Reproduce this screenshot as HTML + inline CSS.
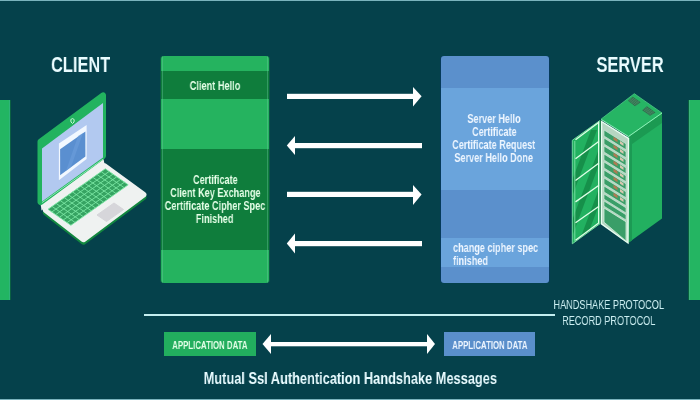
<!DOCTYPE html>
<html><head><meta charset="utf-8">
<style>
html,body{margin:0;padding:0;}
body{width:700px;height:400px;overflow:hidden;background:#05414b;position:relative;font-family:"Liberation Sans",sans-serif;}
.a{position:absolute;}
.ln{position:absolute;white-space:nowrap;font-weight:bold;text-align:center;}
.ln span{display:inline-block;will-change:transform;}
.ln{will-change:transform;}
</style></head><body>
<div class="a" style="left:0;top:0;width:700px;height:1px;background:#7ab3bd"></div>
<div class="a" style="left:0;top:399px;width:700px;height:1px;background:#7ab3bd"></div>
<div class="a" style="left:0;top:100px;width:9px;height:200px;background:#22b562"></div>
<div class="a" style="left:9px;top:100px;width:1px;height:200px;background:#2fb47a"></div>
<div class="a" style="left:10px;top:100px;width:1px;height:200px;background:#0a6042"></div>
<div class="a" style="left:688px;top:100px;width:1px;height:200px;background:#08603e"></div>
<div class="a" style="left:689px;top:100px;width:1px;height:200px;background:#3cb47c"></div>
<div class="a" style="left:690px;top:100px;width:10px;height:200px;background:#24b562"></div>

<svg class="a" style="left:0;top:0" width="700" height="400">
<polygon points="45.92,212.54 104.04,168.53 143.43,197.13 83.35,241.73" fill="#12873f" stroke="#12873f" stroke-width="6" stroke-linejoin="round"/>
<polygon points="45.92,210.04 104.04,166.03 143.43,194.63 83.35,239.23" fill="#eff2f1" stroke="#eff2f1" stroke-width="6" stroke-linejoin="round"/>
<polygon points="40.50,203.00 103.00,157.00 104.50,163.50 41.50,210.50" fill="#eff2f1"/>
<polygon points="40.50,141.60 103.00,95.40 103.00,156.00 40.50,202.00" fill="#22b35f" stroke="#22b35f" stroke-width="6" stroke-linejoin="round"/>
<polygon points="42.00,148.40 103.00,103.10 103.00,157.50 42.00,201.50" fill="#b2c9f0"/>
<line x1="42" y1="202.6" x2="103" y2="159.2" stroke="#8ae8b0" stroke-width="1"/>
<polygon points="58.90,143.60 86.60,124.90 86.60,159.00 58.90,180.20" fill="#f2f8ff"/>
<polygon points="60.10,149.30 85.40,131.40 85.40,156.60 60.10,175.30" fill="#5a8fd0"/>
<polygon points="66.00,171.00 78.00,136.00 83.00,133.00 71.00,167.00" fill="#6d9fdc" opacity="0.6"/>
<path d="M70.8,119.5 L72.6,118.6 L74.2,119.6 L74,122 L72.5,123.5 L71,122 Z" fill="none" stroke="#d8ffe0" stroke-width="0.9"/>
<polygon points="48.00,209.30 105.30,168.80 128.20,184.80 70.90,225.30" fill="#36a362"/>
<path d="M48.00,209.30L70.90,225.30M52.09,206.41L74.99,222.41M56.19,203.51L79.09,219.51M60.28,200.62L83.18,216.62M64.37,197.73L87.27,213.73M68.46,194.84L91.36,210.84M72.56,191.94L95.46,207.94M76.65,189.05L99.55,205.05M80.74,186.16L103.64,202.16M84.84,183.26L107.74,199.26M88.93,180.37L111.83,196.37M93.02,177.48L115.92,193.48M97.11,174.59L120.01,190.59M101.21,171.69L124.11,187.69M105.30,168.80L128.20,184.80M48.00,209.30L105.30,168.80M51.82,211.97L109.12,171.47M55.63,214.63L112.93,174.13M59.45,217.30L116.75,176.80M63.27,219.97L120.57,179.47M67.08,222.63L124.38,182.13M70.90,225.30L128.20,184.80" stroke="#7ae6a4" stroke-width="0.9" fill="none"/>
<polygon points="114.00,203.00 123.50,209.50 106.50,221.50 97.00,215.00" fill="#d6d6da" stroke="#d6d6da" stroke-width="1" stroke-linejoin="round"/>
<defs><clipPath id="dc"><polygon points="572.30,140.30 600.00,120.50 600.00,223.70 572.30,243.80"/></clipPath></defs>
<polygon points="572.30,140.30 600.00,120.50 600.00,223.70 572.30,243.80" fill="#22b160"/>
<g clip-path="url(#dc)" fill="#16904a"><polygon points="546.00,250.00 552.00,250.00 597.00,130.00 591.00,130.00"/><polygon points="561.00,250.00 567.00,250.00 612.00,130.00 606.00,130.00"/><polygon points="576.00,250.00 582.00,250.00 627.00,130.00 621.00,130.00"/><polygon points="591.00,250.00 597.00,250.00 642.00,130.00 636.00,130.00"/><polygon points="606.00,250.00 612.00,250.00 657.00,130.00 651.00,130.00"/></g>
<polygon points="572.30,140.30 600.00,120.50 600.00,223.70 572.30,243.80" fill="none" stroke="#6fd89c" stroke-width="1"/>
<line x1="574.8" y1="141" x2="574.8" y2="241.5" stroke="#8ae8b0" stroke-width="0.8"/>
<line x1="598.6" y1="121.5" x2="598.6" y2="223" stroke="#e0ffe8" stroke-width="1.2"/>
<line x1="575.5" y1="139.8" x2="599" y2="122.3" stroke="#e0ffe8" stroke-width="1.3"/>
<line x1="575.5" y1="158.7" x2="599" y2="141.2" stroke="#e0ffe8" stroke-width="1.3"/>
<line x1="575.5" y1="180.6" x2="599" y2="163.1" stroke="#e0ffe8" stroke-width="1.3"/>
<line x1="575.5" y1="201.9" x2="599" y2="185.2" stroke="#e0ffe8" stroke-width="1.3"/>
<line x1="575.5" y1="222.8" x2="599" y2="206.2" stroke="#e0ffe8" stroke-width="1.3"/>
<line x1="575.5" y1="240.3" x2="599" y2="222.8" stroke="#e0ffe8" stroke-width="1.3"/>
<line x1="600.5" y1="120" x2="600.5" y2="224" stroke="#0e6e3a" stroke-width="1.2"/>
<polygon points="628.50,136.50 662.00,113.00 662.00,218.60 628.00,243.00" fill="#22b060"/>
<polygon points="628.50,136.50 662.00,113.00 662.00,123.00 628.50,146.50" fill="#1b9a52"/>
<polygon points="628.50,137.00 632.00,134.50 632.00,240.50 628.20,243.00" fill="#1c9a54"/>
<polygon points="634.30,93.70 662.00,113.00 628.50,136.50 601.20,119.00" fill="#26b564" stroke="#4cc985" stroke-width="0.8" stroke-linejoin="round"/>
<polyline points="601.20,119.50 628.50,136.50 662.00,113.00" fill="none" stroke="#8af0b4" stroke-width="1"/>
<polygon points="632.70,96.80 640.60,102.30 635.00,106.30 628.00,100.70" fill="#2a6e4a"/>
<path d="M634.28,97.90L629.40,101.82M631.76,97.58L639.48,103.10M635.86,99.00L630.80,102.94M630.82,98.36L638.36,103.90M637.44,100.10L632.20,104.06M629.88,99.14L637.24,104.70M639.02,101.20L633.60,105.18M628.94,99.92L636.12,105.50" stroke="#4d8a68" stroke-width="0.6"/>
<polygon points="646.90,106.30 655.50,112.60 650.00,115.70 642.20,110.20" fill="#2a6e4a"/>
<path d="M648.62,107.56L643.76,111.30M645.96,107.08L654.40,113.22M650.34,108.82L645.32,112.40M645.02,107.86L653.30,113.84M652.06,110.08L646.88,113.50M644.08,108.64L652.20,114.46M653.78,111.34L648.44,114.60M643.14,109.42L651.10,115.08" stroke="#4d8a68" stroke-width="0.6"/>
<polygon points="601.60,121.50 628.50,138.30 628.00,243.00 601.40,223.80" fill="#b6d6c2"/>
<polygon points="601.60,121.50 628.50,138.30 628.00,243.00 601.40,223.80" fill="none" stroke="#eafff2" stroke-width="1.4"/>
<polygon points="604.00,130.00 626.00,143.74 626.00,149.74 604.00,136.00" fill="#3a9e68" stroke="#cfe8d8" stroke-width="0.7"/>
<polygon points="613.50,136.73 617.50,139.23 617.50,142.23 613.50,139.73" fill="#b07a52"/>
<polygon points="620.00,140.99 623.50,143.18 623.50,145.98 620.00,143.79" fill="#d8c8b0"/>
<polygon points="604.00,138.00 626.00,151.74 626.00,157.74 604.00,144.00" fill="#3a9e68" stroke="#cfe8d8" stroke-width="0.7"/>
<polygon points="613.50,144.73 617.50,147.23 617.50,150.23 613.50,147.73" fill="#b07a52"/>
<polygon points="620.00,148.99 623.50,151.18 623.50,153.98 620.00,151.79" fill="#d8c8b0"/>
<polygon points="604.00,146.00 626.00,159.74 626.00,165.74 604.00,152.00" fill="#3a9e68" stroke="#cfe8d8" stroke-width="0.7"/>
<polygon points="613.50,152.73 617.50,155.23 617.50,158.23 613.50,155.73" fill="#b07a52"/>
<polygon points="620.00,156.99 623.50,159.18 623.50,161.98 620.00,159.79" fill="#d8c8b0"/>
<polygon points="604.00,154.00 626.00,167.74 626.00,173.74 604.00,160.00" fill="#3a9e68" stroke="#cfe8d8" stroke-width="0.7"/>
<polygon points="613.50,160.73 617.50,163.23 617.50,166.23 613.50,163.73" fill="#b07a52"/>
<polygon points="620.00,164.99 623.50,167.18 623.50,169.98 620.00,167.79" fill="#d8c8b0"/>
<polygon points="604.00,162.00 626.00,175.74 626.00,181.74 604.00,168.00" fill="#3a9e68" stroke="#cfe8d8" stroke-width="0.7"/>
<polygon points="613.50,168.73 617.50,171.23 617.50,174.23 613.50,171.73" fill="#b07a52"/>
<polygon points="620.00,172.99 623.50,175.18 623.50,177.98 620.00,175.79" fill="#d8c8b0"/>
<polygon points="604.00,170.00 626.00,183.74 626.00,189.74 604.00,176.00" fill="#3a9e68" stroke="#cfe8d8" stroke-width="0.7"/>
<polygon points="613.50,176.73 617.50,179.23 617.50,182.23 613.50,179.73" fill="#b07a52"/>
<polygon points="620.00,180.99 623.50,183.18 623.50,185.98 620.00,183.79" fill="#d8c8b0"/>
<polygon points="604.00,178.00 626.00,191.74 626.00,197.74 604.00,184.00" fill="#3a9e68" stroke="#cfe8d8" stroke-width="0.7"/>
<polygon points="613.50,184.73 617.50,187.23 617.50,190.23 613.50,187.73" fill="#b07a52"/>
<polygon points="620.00,188.99 623.50,191.18 623.50,193.98 620.00,191.79" fill="#d8c8b0"/>
<polygon points="604.00,186.00 626.00,199.74 626.00,205.74 604.00,192.00" fill="#3a9e68" stroke="#cfe8d8" stroke-width="0.7"/>
<polygon points="613.50,192.73 617.50,195.23 617.50,198.23 613.50,195.73" fill="#b07a52"/>
<polygon points="620.00,196.99 623.50,199.18 623.50,201.98 620.00,199.79" fill="#d8c8b0"/>
<polygon points="604.00,194.00 626.00,207.74 626.00,212.94 604.00,199.20" fill="#3a9e68" stroke="#cfe8d8" stroke-width="0.7"/>
<polygon points="604.00,201.00 626.00,214.74 626.00,219.94 604.00,206.20" fill="#3a9e68" stroke="#cfe8d8" stroke-width="0.7"/>
<polygon points="604.00,208.00 626.00,221.74 626.00,241.00 604.00,222.20" fill="#3a9e68" stroke="#d0f0dc" stroke-width="0.8"/>
</svg>

<div class="ln" style="left:0px;top:53.6px;width:161px;font-size:22.5px;line-height:22px;color:#eafcff"><span style="transform:scaleX(0.73)">CLIENT</span></div>
<div class="ln" style="left:530px;top:53.6px;width:200px;font-size:22.5px;line-height:22px;color:#eafcff"><span style="transform:scaleX(0.73)">SERVER</span></div>

<div class="a" style="left:161px;top:56px;width:108px;height:227px;background:#25b35f;border-radius:3px;overflow:hidden;box-shadow:-1px 0 0 #0a5a44,1px 0 0 #0a5a44">
  <div class="a" style="left:0;top:15px;width:108px;height:28px;background:#0f7d3c"></div>
  <div class="a" style="left:0;top:93px;width:108px;height:101px;background:#0f7d3c"></div>
  <div class="a" style="left:1px;top:0;width:1px;height:227px;background:rgba(120,210,170,0.35)"></div>
  <div class="a" style="left:106px;top:0;width:1px;height:227px;background:rgba(120,210,170,0.35)"></div>
</div>
<div class="a" style="left:441px;top:56px;width:108px;height:227px;background:#5b90cc;border-radius:3px;overflow:hidden;box-shadow:-1px 0 0 #053a5a,1px 0 0 #053a5a">
  <div class="a" style="left:0;top:32px;width:108px;height:102px;background:#6aa4dc"></div>
  <div class="a" style="left:0;top:182px;width:108px;height:29px;background:#6aa4dc"></div>
</div>

<svg class="a" style="left:0;top:0" width="700" height="400">
  <g fill="#ffffff">
    <rect x="287" y="93.8" width="127" height="5.2"/>
    <polygon points="413,87 421.6,96.3 413,106.5"/>
    <rect x="294" y="143" width="128" height="5.2"/>
    <polygon points="295,136 286.8,145.5 295,155"/>
    <rect x="287" y="191.8" width="127" height="5.2"/>
    <polygon points="413,185 421.6,194.5 413,205"/>
    <rect x="294" y="241" width="128" height="5.2"/>
    <polygon points="295,233.6 286.8,243.5 295,253.5"/>
    <rect x="270" y="342" width="158" height="4.3"/>
    <polygon points="271,334 262.5,344 271,354"/>
    <polygon points="427,334 435,344 427,354"/>
  </g>
  <rect x="144" y="314" width="411" height="2" fill="#c4eef0"/>
</svg>

<div class="ln" style="left:141px;top:80px;width:148px;font-size:12px;line-height:12px;color:#e6ffe8"><span style="transform:scaleX(0.766)">Client Hello</span></div>
<div class="ln" style="left:141px;top:174px;width:148px;font-size:12px;line-height:13px;color:#e6ffe8">
<div><span style="transform:scaleX(0.762)">Certificate</span></div>
<div><span style="transform:scaleX(0.762)">Client Key Exchange</span></div>
<div><span style="transform:scaleX(0.762)">Certificate Cipher Spec</span></div>
<div><span style="transform:scaleX(0.762)">Finished</span></div>
</div>
<div class="ln" style="left:420px;top:112.5px;width:148px;font-size:12px;line-height:13px;color:#eef6ff">
<div><span style="transform:scaleX(0.76)">Server Hello</span></div>
<div><span style="transform:scaleX(0.76)">Certificate</span></div>
<div><span style="transform:scaleX(0.76)">Certificate Request</span></div>
<div><span style="transform:scaleX(0.76)">Server Hello Done</span></div>
</div>
<div class="ln" style="left:452.5px;top:241.5px;text-align:left;font-size:12px;line-height:13px;color:#eef6ff;transform-origin:0 0;transform:scaleX(0.76)">
<div>change cipher spec</div>
<div>finished</div>
</div>
<div class="ln" style="left:509px;top:297px;width:200px;font-size:12.7px;line-height:16px;font-weight:normal;color:#cdeff2">
<div><span style="transform:scaleX(0.72)">HANDSHAKE PROTOCOL</span></div>
<div><span style="transform:scaleX(0.72)">RECORD PROTOCOL</span></div>
</div>
<div class="a" style="left:164px;top:332px;width:92px;height:24px;background:#22ae5e"></div>
<div class="a" style="left:444px;top:332px;width:91px;height:24px;background:#5a8fcb"></div>
<div class="ln" style="left:130px;top:339.5px;width:160px;font-size:11px;line-height:11px;color:#e4ffe8"><span style="transform:scaleX(0.713)">APPLICATION DATA</span></div>
<div class="ln" style="left:409.5px;top:339.5px;width:160px;font-size:11px;line-height:11px;color:#eef6ff"><span style="transform:scaleX(0.713)">APPLICATION DATA</span></div>
<div class="ln" style="left:150px;top:370.8px;width:400px;font-size:16px;line-height:16px;color:#e8fbff"><span style="transform:scaleX(0.80)">Mutual Ssl Authentication Handshake Messages</span></div>
</body></html>
